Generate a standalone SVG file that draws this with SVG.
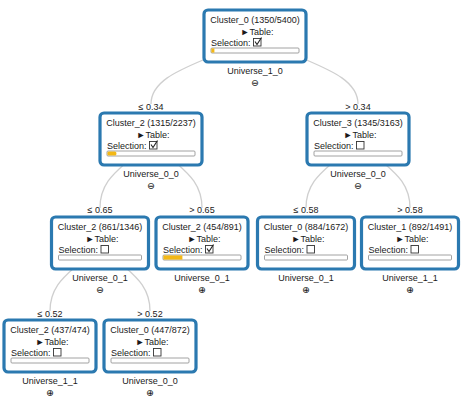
<svg xmlns="http://www.w3.org/2000/svg" width="474" height="403" viewBox="0 0 474 403">
<style>
  text { font-family: "Liberation Sans", Arial, sans-serif; font-size: 9px; fill: #1a1a1a; }
  .c { text-anchor: middle; }
  .sym { font-family: "DejaVu Sans", sans-serif; font-size: 9.5px; text-anchor: middle; }
  .box { fill: #fff; stroke: #2b79b0; stroke-width: 3.2; }
  .bar { fill: #fff; stroke: #8a8a8a; stroke-width: 0.8; }
  .fill { fill: #f3b816; }
  .cb { fill: #fff; stroke: #333; stroke-width: 0.9; }
  .ck { fill: none; stroke: #222; stroke-width: 1.1; }
  .link { fill: none; stroke: #cfcfcf; stroke-width: 1.3; }
</style>
<rect width="474" height="403" fill="#fff"/>
<g id="links">
  <path class="link" d="M255,16 C255,60 151,60 151,104"/>
  <path class="link" d="M255,16 C255,60 358,60 358,104"/>
  <path class="link" d="M151,119 C151,163 100,163 100,208"/>
  <path class="link" d="M151,119 C151,163 202,163 202,208"/>
  <path class="link" d="M358,119 C358,163 306,163 306,208"/>
  <path class="link" d="M358,119 C358,163 410,163 410,208"/>
  <path class="link" d="M100,223 C100,267 50,267 50,311"/>
  <path class="link" d="M100,223 C100,267 150,267 150,311"/>
</g>

<g id="n0">
  <rect class="box" x="204" y="10" width="102" height="52" rx="4"/>
  <text class="c" x="255" y="23">Cluster_0 (1350/5400)</text>
  <text class="c" x="257" y="35">►Table:</text>
  <text x="211" y="46">Selection:</text>
  <rect class="cb" x="253.5" y="38.5" width="7.5" height="7.5"/>
  <path class="ck" d="M255,41.5 L257,44.5 L261.5,37.5"/>
  <rect class="bar" x="211" y="48" width="88" height="5" rx="1"/>
  <rect class="fill" x="211.4" y="48.4" width="3" height="4.2"/>
  <text class="c" x="255" y="74">Universe_1_0</text>
  <text class="sym" x="255" y="86">⊖</text>
</g>

<g id="n1">
  <text class="c" x="151" y="110">≤ 0.34</text>
  <rect class="box" x="100" y="113" width="102" height="52" rx="4"/>
  <text class="c" x="151" y="126">Cluster_2 (1315/2237)</text>
  <text class="c" x="153" y="138">►Table:</text>
  <text x="107" y="149">Selection:</text>
  <rect class="cb" x="149.5" y="141.5" width="7.5" height="7.5"/>
  <path class="ck" d="M151,144.5 L153,147.5 L157.5,140.5"/>
  <rect class="bar" x="107" y="151" width="88" height="5" rx="1"/>
  <rect class="fill" x="107.4" y="151.4" width="9" height="4.2" rx="1.5"/>
  <text class="c" x="151" y="177">Universe_0_0</text>
  <text class="sym" x="151" y="189">⊖</text>
</g>

<g id="n2">
  <text class="c" x="358" y="110">&gt; 0.34</text>
  <rect class="box" x="307" y="113" width="102" height="52" rx="4"/>
  <text class="c" x="358" y="126">Cluster_3 (1345/3163)</text>
  <text class="c" x="360" y="138">►Table:</text>
  <text x="314" y="149">Selection:</text>
  <rect class="cb" x="356.5" y="141.5" width="7.5" height="7.5"/>
  <rect class="bar" x="314" y="151" width="88" height="5" rx="1"/>
  <text class="c" x="358" y="177">Universe_0_0</text>
  <text class="sym" x="358" y="189">⊖</text>
</g>

<g id="n3">
  <text class="c" x="100" y="213">≤ 0.65</text>
  <rect class="box" x="51.5" y="217" width="97" height="52" rx="4"/>
  <text class="c" x="100" y="230">Cluster_2 (861/1346)</text>
  <text class="c" x="102" y="242">►Table:</text>
  <text x="58.5" y="253">Selection:</text>
  <rect class="cb" x="101" y="245.5" width="7.5" height="7.5"/>
  <rect class="bar" x="58.5" y="255" width="83" height="5" rx="1"/>
  <text class="c" x="100" y="281">Universe_0_1</text>
  <text class="sym" x="100" y="293">⊖</text>
</g>

<g id="n4">
  <text class="c" x="202" y="213">&gt; 0.65</text>
  <rect class="box" x="156" y="217" width="92" height="52" rx="4"/>
  <text class="c" x="202" y="230">Cluster_2 (454/891)</text>
  <text class="c" x="204" y="242">►Table:</text>
  <text x="163" y="253">Selection:</text>
  <rect class="cb" x="205.5" y="245.5" width="7.5" height="7.5"/>
  <path class="ck" d="M207,248.5 L209,251.5 L213.5,244.5"/>
  <rect class="bar" x="163" y="255" width="78" height="5" rx="1"/>
  <rect class="fill" x="163.4" y="255.4" width="19" height="4.2"/>
  <text class="c" x="202" y="281">Universe_0_1</text>
  <text class="sym" x="202" y="293">⊕</text>
</g>

<g id="n5">
  <text class="c" x="306" y="213">≤ 0.58</text>
  <rect class="box" x="257.5" y="217" width="97" height="52" rx="4"/>
  <text class="c" x="306" y="230">Cluster_0 (884/1672)</text>
  <text class="c" x="308" y="242">►Table:</text>
  <text x="264.5" y="253">Selection:</text>
  <rect class="cb" x="307" y="245.5" width="7.5" height="7.5"/>
  <rect class="bar" x="264.5" y="255" width="83" height="5" rx="1"/>
  <text class="c" x="306" y="281">Universe_0_1</text>
  <text class="sym" x="306" y="293">⊕</text>
</g>

<g id="n6">
  <text class="c" x="410" y="213">&gt; 0.58</text>
  <rect class="box" x="361.5" y="217" width="97" height="52" rx="4"/>
  <text class="c" x="410" y="230">Cluster_1 (892/1491)</text>
  <text class="c" x="412" y="242">►Table:</text>
  <text x="368.5" y="253">Selection:</text>
  <rect class="cb" x="411" y="245.5" width="7.5" height="7.5"/>
  <rect class="bar" x="368.5" y="255" width="83" height="5" rx="1"/>
  <text class="c" x="410" y="281">Universe_1_1</text>
  <text class="sym" x="410" y="293">⊕</text>
</g>

<g id="n7">
  <text class="c" x="50" y="317">≤ 0.52</text>
  <rect class="box" x="4" y="320" width="92" height="52" rx="4"/>
  <text class="c" x="50" y="333">Cluster_2 (437/474)</text>
  <text class="c" x="52" y="345">►Table:</text>
  <text x="11" y="356">Selection:</text>
  <rect class="cb" x="53.5" y="348.5" width="7.5" height="7.5"/>
  <rect class="bar" x="11" y="358" width="78" height="5" rx="1"/>
  <text class="c" x="50" y="384">Universe_1_1</text>
  <text class="sym" x="50" y="396">⊕</text>
</g>

<g id="n8">
  <text class="c" x="150" y="317">&gt; 0.52</text>
  <rect class="box" x="104" y="320" width="92" height="52" rx="4"/>
  <text class="c" x="150" y="333">Cluster_0 (447/872)</text>
  <text class="c" x="152" y="345">►Table:</text>
  <text x="111" y="356">Selection:</text>
  <rect class="cb" x="153.5" y="348.5" width="7.5" height="7.5"/>
  <rect class="bar" x="111" y="358" width="78" height="5" rx="1"/>
  <text class="c" x="150" y="384">Universe_0_0</text>
  <text class="sym" x="150" y="396">⊕</text>
</g>
</svg>
